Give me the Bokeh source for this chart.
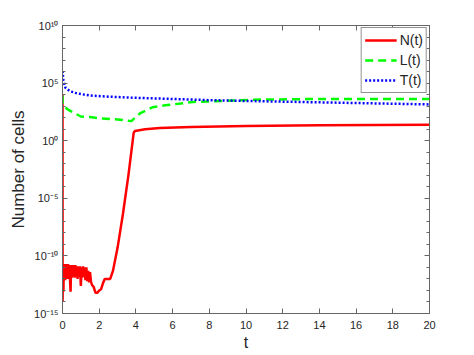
from bokeh.plotting import figure
from bokeh.models import FixedTicker, CustomJSTickFormatter, LogAxis, LinearAxis, Legend, LegendItem
from bokeh.embed import file_html
from bokeh.resources import INLINE

# ---- data (log10 of values) ----
N_t = [0, 0.005, 0.02, 0.05, 0.07, 0.09, 0.12, 0.15, 0.18, 0.21, 0.24, 0.27, 0.30, 0.33,
       0.36, 0.40, 0.44, 0.47, 0.50, 0.54, 0.58, 0.62, 0.66, 0.70, 0.74, 0.78, 0.82, 0.86,
       0.90, 0.95, 1.00, 1.04, 1.08, 1.12, 1.16, 1.20, 1.25, 1.30, 1.35, 1.40, 1.45, 1.50,
       1.55, 1.60, 1.70, 1.80, 1.90, 2.00, 2.10, 2.20, 2.30, 2.40, 2.50, 2.60, 2.75, 3.00,
       3.30, 3.60, 3.88, 3.95, 4.5, 5.3, 7, 10, 14, 20]
N_exp = [4.0, -14.0, -10.7, -13.1, -10.8, -11.9, -10.7, -12.1, -10.7, -11.8, -10.8, -12.0,
         -10.7, -11.9, -10.8, -11.7, -13.1, -10.8, -11.9, -10.8, -11.8, -10.8, -11.9, -10.8,
         -11.8, -10.9, -12.0, -10.9, -11.8, -10.9, -12.6, -11.0, -11.9, -10.9, -11.8, -11.0,
         -12.1, -11.0, -12.2, -11.3, -12.3, -11.4, -12.2, -12.5, -12.7, -13.2, -13.2, -13.0,
         -12.9, -12.4, -12.0, -12.0, -12.0, -12.0, -11.3, -9.3, -6.3, -2.9, 0.7, 0.85, 1.0,
         1.1, 1.2, 1.28, 1.34, 1.39]

L_t = [0, 0.01, 0.3, 0.7, 1.0, 1.5, 2.0, 3.0, 3.75, 4.25, 4.9, 5.6, 7.1, 8.6, 10.8, 13.7, 20]
L_exp = [3.9, 3.1, 2.7, 2.35, 2.1, 2.05, 1.95, 1.85, 1.7, 2.4, 2.9, 3.07, 3.36, 3.45, 3.57,
         3.62, 3.63]

T_t = [0, 0.05, 0.16, 0.4, 0.7, 1.0, 1.5, 2.5, 4, 5.9, 8, 10, 14, 17, 20]
T_exp = [6.05, 5.2, 4.6, 4.3, 4.15, 4.05, 3.92, 3.82, 3.72, 3.63, 3.52, 3.45, 3.33, 3.24, 3.15]

x_ticks = [0, 2, 4, 6, 8, 10, 12, 14, 16, 18, 20]
y_tick_exps = [-15, -10, -5, 0, 5, 10]
y_minor_exps = list(range(-15, 11))

N_vals = [10.0 ** e for e in N_exp]
L_vals = [10.0 ** e for e in L_exp]
T_vals = [10.0 ** e for e in T_exp]

AX = "#666666"
TXT = "#262626"
FONT = "Liberation Sans"

p = figure(frame_width=367, frame_height=288, y_axis_type="log", x_range=(0, 20),
           y_range=(1e-15, 1e10), output_backend="svg", toolbar_location=None,
           min_border_left=62, min_border_top=25, min_border_right=29, min_border_bottom=42)
p.background_fill_color = "white"
p.border_fill_color = "white"
p.xgrid.visible = False
p.ygrid.visible = False
p.outline_line_color = AX
p.outline_line_width = 1

r_n = p.line(N_t, N_vals, line_color="#ff0000", line_width=2.5)
r_l = p.line(L_t, L_vals, line_color="#00ff00", line_width=2.5, line_dash="8 5")
r_t = p.line(T_t, T_vals, line_color="#0000ff", line_width=2.5, line_dash="2 2")

sup = CustomJSTickFormatter(code="""
const m = {'0':'\u2070','1':'\u00b9','2':'\u00b2','3':'\u00b3','4':'\u2074','5':'\u2075','6':'\u2076','7':'\u2077','8':'\u2078','9':'\u2079','-':'\u207b'};
const e = Math.round(Math.log10(tick));
return '10' + String(e).split('').map(c => m[c]).join('');
""")
blank = CustomJSTickFormatter(code="return '';")

yt = FixedTicker(ticks=[10.0 ** e for e in y_tick_exps], minor_ticks=[10.0 ** e for e in y_minor_exps])
xt = FixedTicker(ticks=x_ticks, minor_ticks=[])

def style(ax):
    ax.axis_line_color = AX
    ax.major_tick_line_color = AX
    ax.minor_tick_line_color = AX
    ax.major_tick_in = 5
    ax.major_tick_out = 0
    ax.minor_tick_in = 3
    ax.minor_tick_out = 0
    ax.major_label_text_font = FONT
    ax.major_label_text_font_size = "11px"
    ax.major_label_text_color = TXT
    ax.axis_label_text_font = FONT
    ax.axis_label_text_font_style = "normal"
    ax.axis_label_text_font_size = "17px"
    ax.axis_label_text_color = TXT

xa = p.xaxis[0]
xa.ticker = xt
xa.axis_label = "t"
style(xa)
xa.axis_label_text_font_size = "16px"
xa.major_label_standoff = 7
xa.axis_label_standoff = 2

ya = p.yaxis[0]
ya.ticker = yt
ya.formatter = sup
ya.axis_label = "Number of cells"
style(ya)
ya.major_label_standoff = 4
ya.axis_label_standoff = 3

ra = LogAxis(ticker=yt, formatter=blank)
style(ra)
ra.major_label_text_font_size = "1px"
ra.major_label_standoff = 0
p.add_layout(ra, "right")
ta = LinearAxis(ticker=xt, formatter=blank)
style(ta)
ta.major_label_text_font_size = "1px"
ta.major_label_standoff = 0
p.add_layout(ta, "above")

legend = Legend(items=[LegendItem(label="N(t)", renderers=[r_n]),
                       LegendItem(label="L(t)", renderers=[r_l]),
                       LegendItem(label="T(t)", renderers=[r_t])],
                location="top_right")
legend.label_text_font = FONT
legend.label_text_font_size = "14px"
legend.label_text_color = TXT
legend.border_line_color = "#262626"
legend.border_line_width = 1
legend.background_fill_color = "white"
legend.background_fill_alpha = 1
legend.glyph_width = 32
legend.glyph_height = 18
legend.label_height = 18
legend.spacing = 2
legend.padding = 3
legend.margin = 2
legend.label_standoff = 3
p.add_layout(legend, "center")

open("out.html", "w").write(file_html(p, INLINE))
